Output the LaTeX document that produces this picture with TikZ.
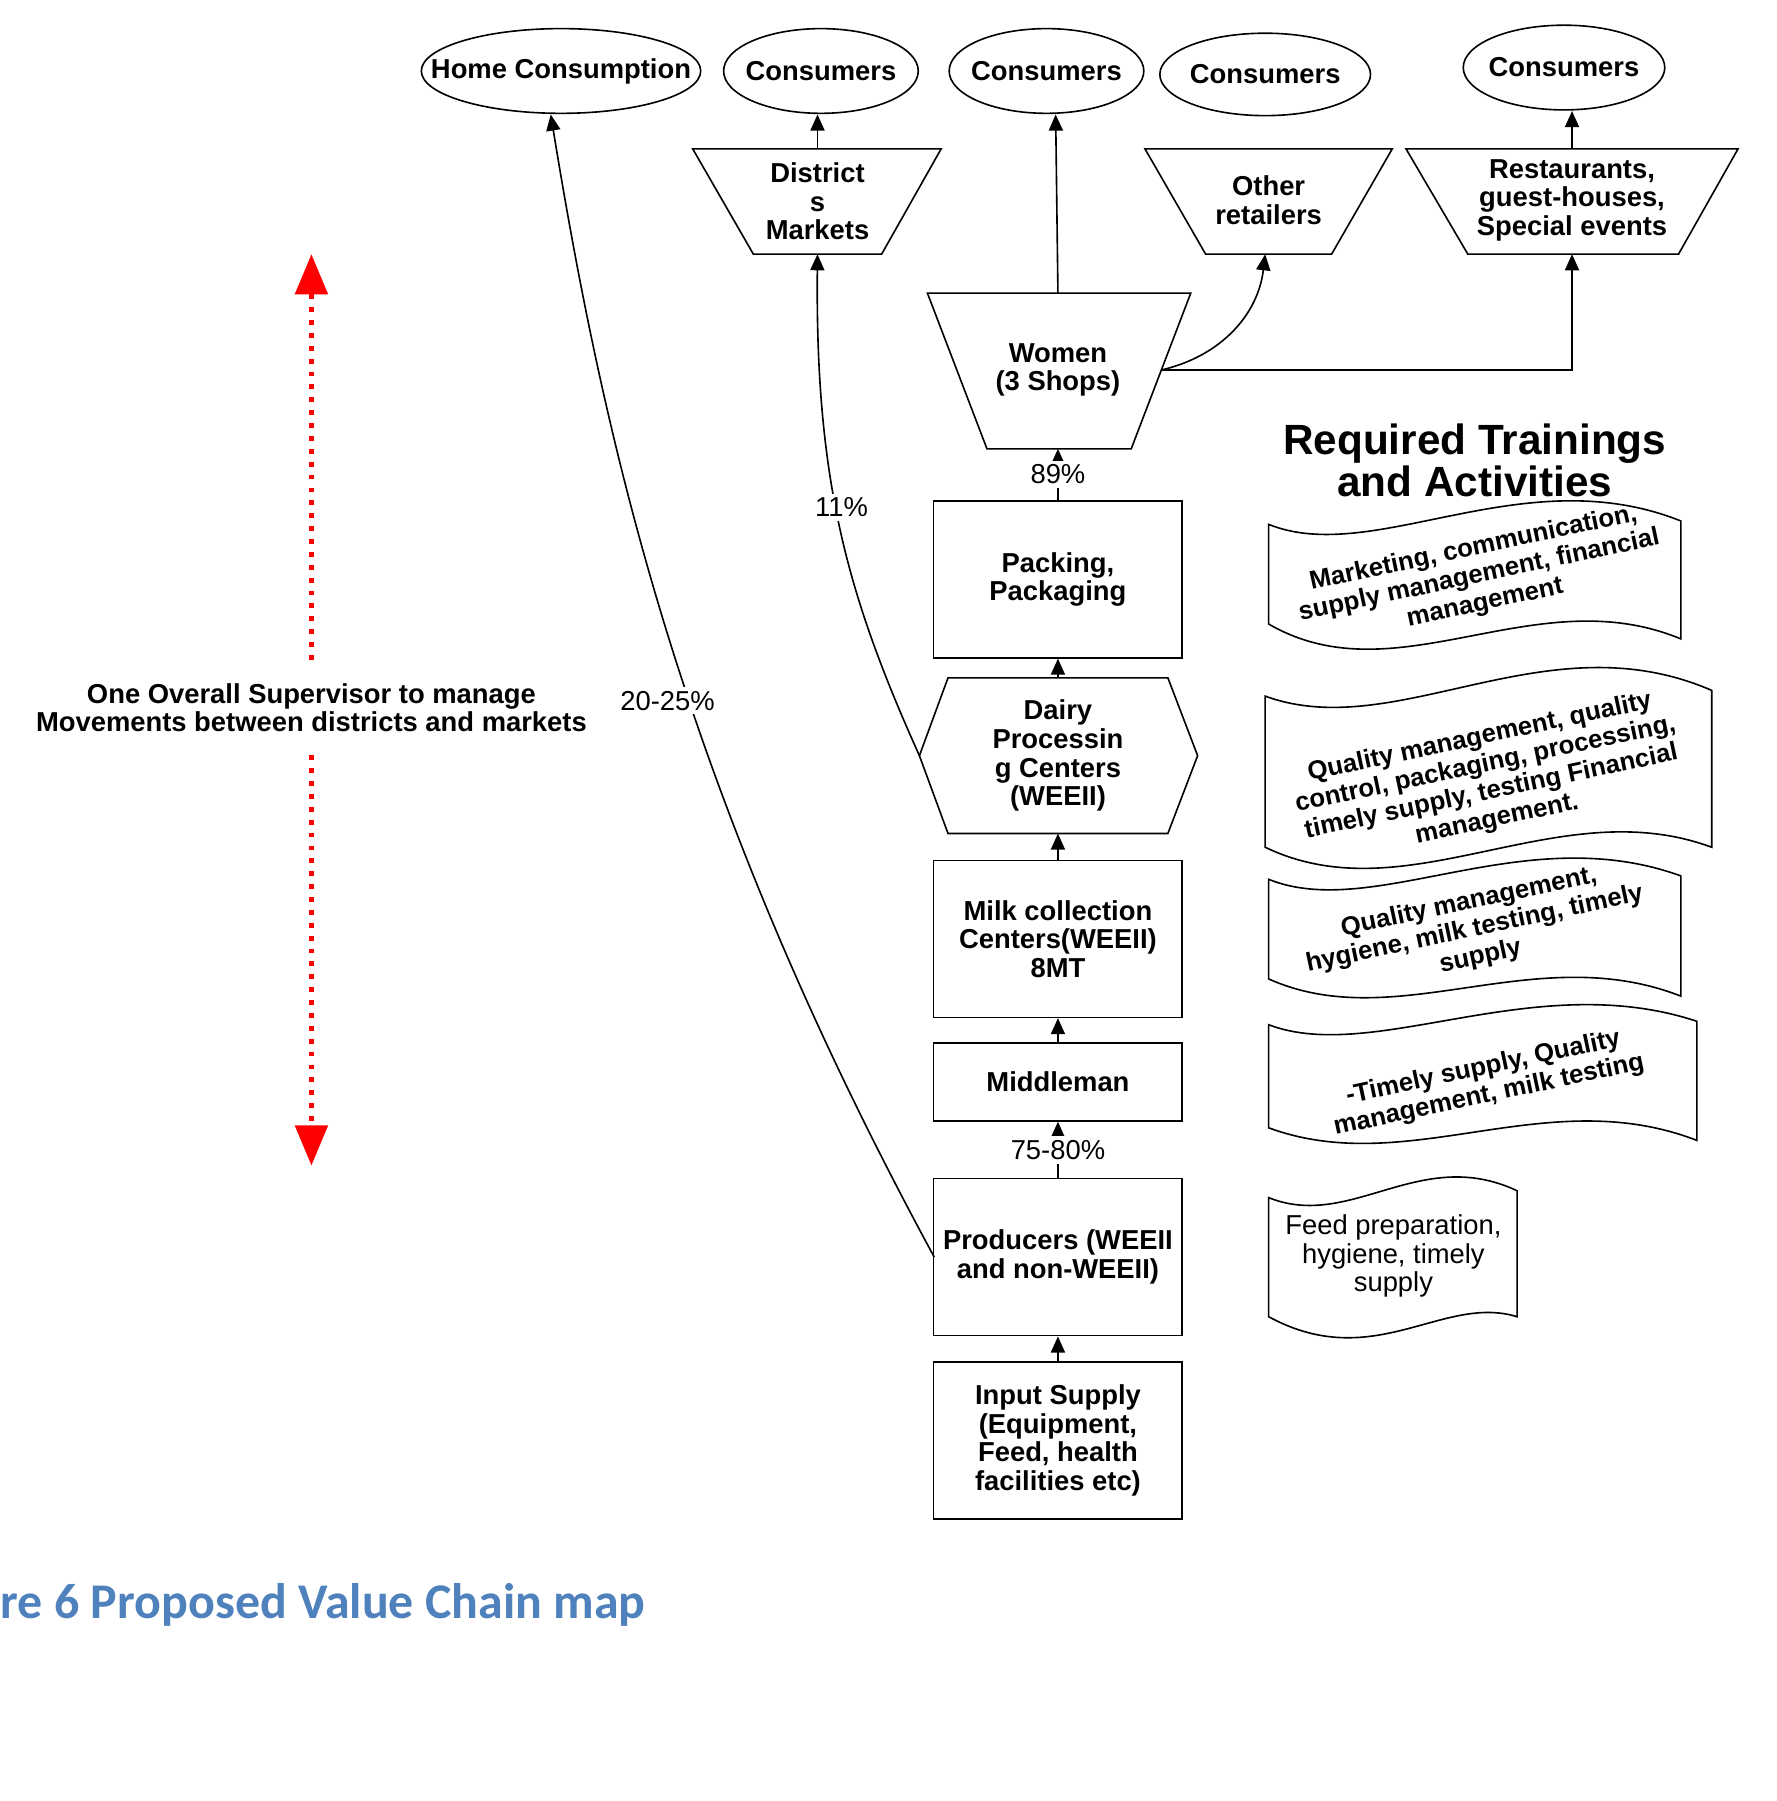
\documentclass[tikz,border=0pt]{standalone}
\usepackage{fontspec}
\setmainfont{Liberation Sans}
\newfontfamily\capfont{Carlito}
\usetikzlibrary{shapes.geometric,arrows.meta}
\definecolor{capblue}{RGB}{79,129,189}
\begin{document}
\begin{tikzpicture}[x=0.01cm,y=-0.01cm,
	txt/.style={font=\fontsize{6.8}{7.1}\selectfont\bfseries, align=center},
	box/.style={txt, draw, minimum width=2.17cm, minimum height=1.37cm, inner sep=0pt},
	pct/.style={font=\fontsize{6.8}{7.1}\selectfont, fill=white, inner sep=1pt},
	flow/.style={-{Triangle[length=4pt,width=3.5pt]}, thin},
	tape/.style={draw, thin},
	say/.style={font=\fontsize{6.4}{6.9}\selectfont\bfseries, align=center, rotate=12}]
	\useasboundingbox (0,0) rectangle (1552,1573);
	% ovals on top
	\node [txt] (home) at (490,62) {Home Consumption};
	\draw (home.center) ellipse (122 and 37);
	\node [txt] (c1) at (717,62) {Consumers};
	\draw (c1.center) ellipse (85 and 37);
	\node [txt] (c2) at (914,62) {Consumers};
	\draw (c2.center) ellipse (85 and 37);
	\node [txt] (c3) at (1105,65) {Consumers};
	\draw (c3.center) ellipse (92 and 36);
	\node [txt] (c4) at (1366,59) {Consumers};
	\draw (c4.center) ellipse (88 and 37);
	\coordinate (homes) at (481,100);
	\coordinate (c1s) at (714,100);
	\coordinate (c2s) at (922,100);
	\coordinate (c4s) at (1373,97);
	% outlets
	\draw (605,130) -- (822,130) -- (770,222) -- (658,222) -- cycle;
	\node [txt] (dist) at (714,176) {District\\s\\Markets};
	\draw (1000,130) -- (1216,130) -- (1163,222) -- (1053,222) -- cycle;
	\node [txt] (other) at (1108,175) {Other\\retailers};
	\draw (1228,130) -- (1518,130) -- (1466,222) -- (1282,222) -- cycle;
	\node [txt] (rest) at (1373,175) {Restaurants,\\guest-houses,\\Special events};
	\draw (810,256) -- (1040,256) -- (988,392) -- (862,392) -- cycle;
	\node [txt] (women) at (924,323) {Women\\(3 Shops)};
	% chain
	\node [box] (pack) at (924,506) {Packing,\\Packaging};
	\draw (803,660) -- (828,592) -- (1020,592) -- (1046,660) -- (1020,728) -- (828,728) -- cycle;
	\node [txt] (dairy) at (924,660) {Dairy\\Processin\\g Centers\\(WEEII)};
	\node [box] (milk) at (924,820) {Milk collection\\Centers(WEEII)\\8MT};
	\node [box, minimum height=0.68cm] (mid) at (924,945) {Middleman};
	\node [box] (prod) at (924,1098) {Producers (WEEII\\and non-WEEII)};
	\node [box] (input) at (924,1258) {Input Supply\\(Equipment,\\Feed, health\\facilities etc)};
	\coordinate (dl) at (803,660);
	\coordinate (db) at (924,728);
	\coordinate (dt) at (924,592);
	\coordinate (dtop) at (714,130);
	\coordinate (dbot) at (714,222);
	\coordinate (otop) at (1105,222);
	\coordinate (rtop) at (1373,130);
	\coordinate (rbot) at (1373,222);
	\coordinate (wtop) at (924,256);
	\coordinate (wbot) at (924,392);
	\coordinate (wr) at (1015,323);
	\coordinate (pl) at (816,1098);
	\path [flow]
		(input) edge (prod)
		(prod) edge node[pct]{75-80\%} (mid)
		(mid) edge (milk)
		(milk) edge (db)
		(dt) edge (pack)
		(pack) edge node[pct]{89\%} (wbot)
		(wtop) edge (c2s)
		(dtop) edge (c1s)
		(rtop) edge (c4s)
		(wr) edge[bend right=35] (otop);
	\draw [flow] (wr) -- (1373,323) -- (rbot);
	\draw [flow] (dl) .. controls (740,520) and (712,420) .. (dbot);
	\draw [flow] (pl) .. controls (600,700) and (530,400) .. (homes);
	\node [pct] (p11) at (735,443) {11\%};
	\node [pct] (p20) at (583,612) {20-25\%};
	% supervisor
	\node [txt] (sup) at (272,618) {One Overall Supervisor to manage\\Movements between districts and markets};
	\coordinate (supt) at (272,222);
	\coordinate (supb) at (272,1018);
	\draw [red, very thick, dotted, -{Triangle[length=10pt,width=8pt]}] (sup.north) ++(0,-8) -- (supt);
	\draw [red, very thick, dotted, -{Triangle[length=10pt,width=8pt]}] (sup.south) ++(0,8) -- (supb);
	% trainings
	\node [txt, font=\fontsize{10.5}{10.5}\selectfont\bfseries] (head) at (1288,402) {Required Trainings\\and Activities};
	\draw [tape] (1108,458) .. controls (1200,495) and (1330,400) .. (1468,455) -- (1468,558)
		.. controls (1340,505) and (1220,610) .. (1108,545) -- cycle;
	\node [say] (t1) at (1292,503) {Marketing, communication,\\supply management, financial\\management};
	\draw [tape] (1105,608) .. controls (1220,650) and (1350,540) .. (1495,603) -- (1495,740)
		.. controls (1360,690) and (1230,800) .. (1105,740) -- cycle;
	\node [say] (t2) at (1300,680) {Quality management, quality\\control, packaging, processing,\\timely supply, testing Financial\\management.};
	\draw [tape] (1108,768) .. controls (1200,805) and (1330,715) .. (1468,765) -- (1468,870)
		.. controls (1340,820) and (1220,905) .. (1108,855) -- cycle;
	\node [say] (t3) at (1288,812) {Quality management,\\hygiene, milk testing, timely\\supply};
	\draw [tape] (1108,895) .. controls (1200,930) and (1340,845) .. (1482,892) -- (1482,996)
		.. controls (1350,945) and (1230,1030) .. (1108,985) -- cycle;
	\node [say] (t4) at (1298,945) {-Timely supply, Quality\\management, milk testing};
	\draw [tape] (1108,1046) .. controls (1180,1075) and (1240,1000) .. (1325,1040) -- (1325,1150)
		.. controls (1260,1130) and (1200,1200) .. (1108,1150) -- cycle;
	\node [font=\fontsize{6.8}{7.1}\selectfont, align=center] (t5) at (1217,1097) {Feed preparation,\\hygiene, timely\\supply};
	% caption
	\node [anchor=west, inner sep=0pt, text=capblue, font=\capfont\fontsize{12.4}{12.4}\selectfont\bfseries] (cap) at (0,1402) {re 6 Proposed Value Chain map};
\end{tikzpicture}
\end{document}
